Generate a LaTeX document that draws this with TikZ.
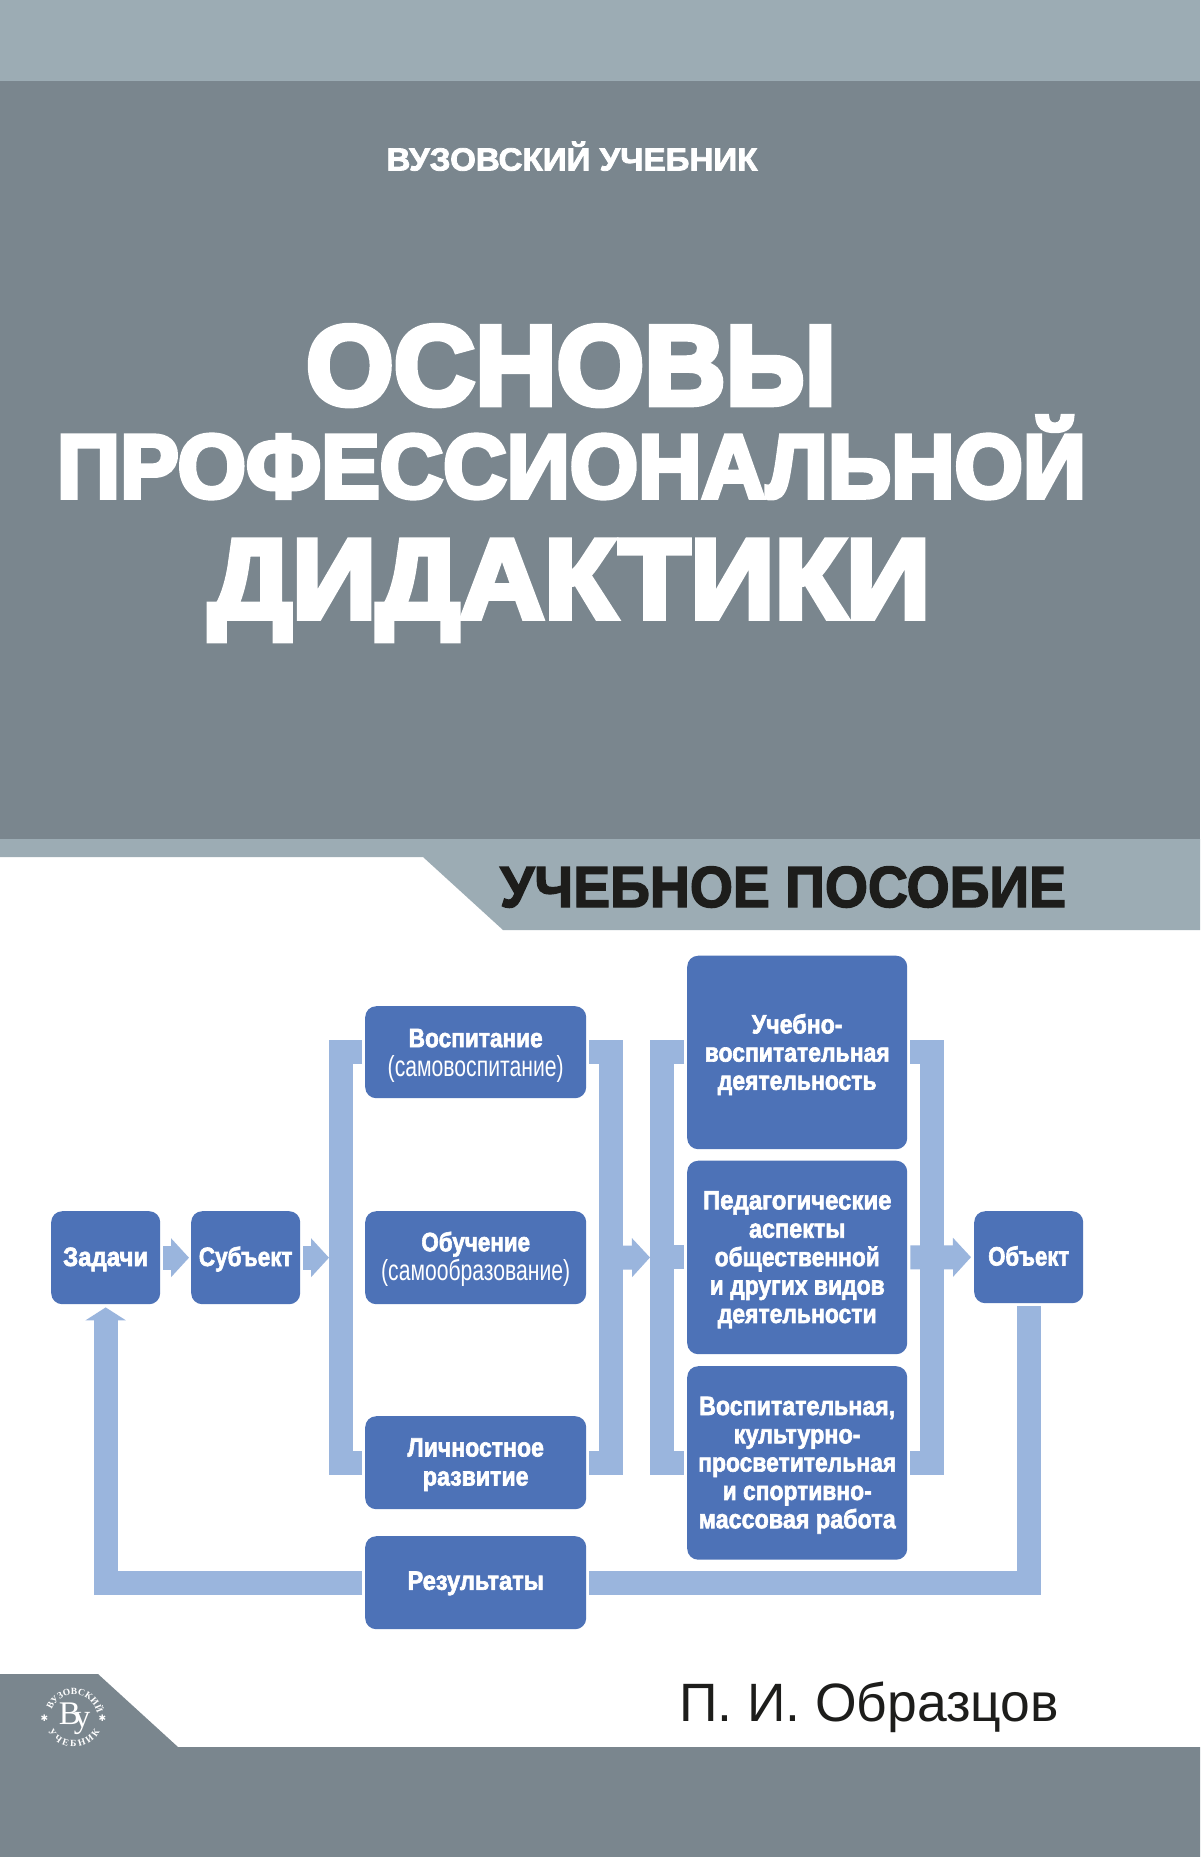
\documentclass[tikz,border=0pt]{standalone}
\usepackage{fontspec}
\usepackage{graphicx}
\usepackage{array}
\setmainfont{Liberation Sans}
\newfontfamily\titlefont{Liberation Sans}[BoldFont={Liberation Sans Bold},BoldFeatures={FakeBold=5}]
\newfontfamily\boxfont{Liberation Sans}[BoldFont={Liberation Sans Bold},BoldFeatures={FakeBold=2.5}]
\newfontfamily\logofont{Liberation Serif}
\newfontfamily\symfont{DejaVu Sans}
\usetikzlibrary{arrows.meta,decorations.text,calc}
\definecolor{topband}{HTML}{9CACB4}
\definecolor{darkband}{HTML}{7A868E}
\definecolor{boxblue}{HTML}{4D72B7}
\definecolor{bandblue}{HTML}{9AB5DD}
\definecolor{inkblack}{HTML}{1D1D1B}
\newcommand{\fitw}[2]{\resizebox{#1pt}{\height}{#2}}
\newcommand{\stack}[3]{\vbox{\kern#1pt\hbox{\setlength{\tabcolsep}{0pt}\fontsize{26.5}{#2}\selectfont\begin{tabular}{c}#3\end{tabular}}}}
\newcommand{\thinl}[1]{\mdseries\fontsize{29}{29}\selectfont #1}
\tikzset{
  flowbox/.style={fill=boxblue,rounded corners=11pt,text=white,inner sep=0pt,anchor=north west,font=\boxfont\bfseries},
  band/.style={draw=bandblue,line width=24pt,line join=miter,line cap=butt},
  bandtip/.style={band,-{Triangle[width=38pt,length=18pt,fill=bandblue]}},
  uptip/.style={band,-{Triangle[width=40pt,length=13pt,fill=bandblue]}},
  titletext/.style={text=white,inner sep=0pt,anchor=base},
}
\begin{document}
\begin{tikzpicture}[x=1pt,y=-1pt]
\useasboundingbox (0,0) rectangle (1200,1857);
\fill[white] (0,0) rectangle (1200,1857);
% background
\fill[topband] (0,0) rectangle (1200,81);
\fill[darkband] (0,81) rectangle (1200,839);
\fill[topband] (0,839) -- (1200,839) -- (1200,930) -- (503,930) -- (423,857) -- (0,857) -- cycle;
\fill[darkband] (0,1674) -- (98,1674) -- (178,1747) -- (1200,1747) -- (1200,1857) -- (0,1857) -- cycle;
% titles
\node[titletext,font=\boxfont\bfseries\fontsize{32}{33}\selectfont] (series) at (572,170.5) {\fitw{371}{ВУЗОВСКИЙ УЧЕБНИК}};
\node[titletext,font=\titlefont\bfseries\fontsize{113}{113}\selectfont] (t1) at (571,404.5) {\fitw{530}{ОСНОВЫ}};
\node[titletext,font=\titlefont\bfseries\fontsize{90}{90}\selectfont] (t2) at (571.5,497.5) {\fitw{1029}{ПРОФЕССИОНАЛЬНОЙ}};
\node[titletext,font=\titlefont\bfseries\fontsize{113}{113}\selectfont] (t3) at (569.5,618) {\fitw{722}{ДИДАКТИКИ}};
\node[text=inkblack,inner sep=0pt,anchor=base,font=\boxfont\bfseries\fontsize{58}{58}\selectfont] (kind) at (783,907) {\fitw{566}{УЧЕБНОЕ ПОСОБИЕ}};
\node[text=inkblack,inner sep=0pt,anchor=base,font=\fontsize{54}{54}\selectfont] (author) at (869,1721) {\fitw{380}{П. И. Образцов}};
% boxes
\node[flowbox,minimum width=109pt,minimum height=93pt] (zad) at (51,1211) {\stack{5}{29}{\fitw{85}{Задачи}}};
\node[flowbox,minimum width=109pt,minimum height=93pt] (sub) at (191,1211) {\stack{5}{29}{\fitw{93.7}{Субъект}}};
\node[flowbox,minimum width=221pt,minimum height=92pt] (vos) at (365,1006) {\stack{8}{29}{\fitw{134}{Воспитание}\\ \fitw{176}{\thinl{(самовоспитание)}}}};
\node[flowbox,minimum width=221pt,minimum height=93pt] (obu) at (365,1211) {\stack{5.5}{28}{\fitw{108.7}{Обучение}\\ \fitw{189}{\thinl{(самообразование)}}}};
\node[flowbox,minimum width=221pt,minimum height=93pt] (lic) at (365,1416) {\stack{5}{29}{\fitw{136.4}{Личностное}\\ \fitw{105.6}{развитие}}};
\node[flowbox,minimum width=221pt,minimum height=93pt] (rez) at (365,1536) {\stack{2.5}{29}{\fitw{136.4}{Результаты}}};
\node[flowbox,minimum width=220pt,minimum height=193.5pt] (g1) at (687,955.5) {\stack{7}{28.2}{\fitw{90.7}{Учебно-}\\ \fitw{185}{воспитательная}\\ \fitw{158.8}{деятельность}}};
\node[flowbox,minimum width=220pt,minimum height=193.5pt] (g2) at (687,1160.5) {\stack{6}{28.4}{\fitw{188.5}{Педагогические}\\ \fitw{96.4}{аспекты}\\ \fitw{165}{общественной}\\ \fitw{175}{и других видов}\\ \fitw{158.8}{деятельности}}};
\node[flowbox,minimum width=220pt,minimum height=193.5pt] (g3) at (687,1366) {\stack{6}{28.3}{\fitw{196}{Воспитательная,}\\ \fitw{126.7}{культурно-}\\ \fitw{198}{просветительная}\\ \fitw{149}{и спортивно-}\\ \fitw{197}{массовая работа}}};
\node[flowbox,minimum width=109pt,minimum height=92pt] (obj) at (974,1211) {\stack{5}{29}{\fitw{81}{Объект}}};
% horizontal arrows
\draw[bandtip] ([xshift=3pt]zad.east) -- ([xshift=-2pt]sub.west);
\coordinate (b1) at ([xshift=-24pt]obu.west);
\draw[band] ([xshift=-3pt]vos.west) -- ([xshift=-24pt]vos.west) -- ([xshift=-24pt]lic.west) -- ([xshift=-3pt]lic.west);
\draw[bandtip] ([xshift=3pt]sub.east) -- ([xshift=-12pt]b1);
% right bracket of column 2
\draw[band] ([xshift=3pt]vos.east) -- ([xshift=24.5pt]vos.east) -- ([xshift=24.5pt]lic.east) -- ([xshift=3pt]lic.east);
% left bracket of column 3
\coordinate (b2) at ([xshift=-25pt]g2.west);
\draw[band] ([xshift=-3pt]g1.west) -- ([xshift=-25pt]g1.west) -- ([xshift=-25pt]g3.west) -- ([xshift=-3pt]g3.west);
\draw[band] ([xshift=-3pt]g2.west) -- (b2);
\draw[bandtip] ([xshift=24.5pt]obu.east) -- ([xshift=-12pt]b2);
% right bracket of column 3
\draw[band] ([xshift=3pt]g1.east) -- ([xshift=25pt]g1.east) -- ([xshift=25pt]g3.east) -- ([xshift=3pt]g3.east);
\draw[bandtip] ([xshift=3pt]g2.east) -- ([xshift=-3pt]obj.west);
% feedback
\draw[uptip,shorten >=3pt] ([xshift=-3pt]rez.west) -| (zad.south);
\draw[band,shorten >=3pt] ([xshift=3pt]rez.east) -| (obj.south);
% logo
\begin{scope}[shift={(74,1718)},y=1pt]
  \node[text=white,inner sep=0pt,font=\logofont\fontsize{33}{33}\selectfont] (logoB) at (-4,4) {В};
  \node[text=white,inner sep=0pt,font=\logofont\fontsize{33}{33}\selectfont] (logoY) at (8,-5) {у};
  \path[decorate,decoration={text along path,text align={fit to path},text color=white,text={|\logofont\bfseries\fontsize{9.5}{9.5}\selectfont|ВУЗОВСКИЙ}}] (160:23.5) arc (160:20:23.5);
  \path[decorate,decoration={text along path,text align={fit to path},text color=white,text={|\logofont\bfseries\fontsize{9.5}{9.5}\selectfont|УЧЕБНИК}}] (207:29) arc (207:333:29);
  \node[text=white,inner sep=0pt,font=\symfont\fontsize{9}{9}\selectfont] (s1) at (-29.5,0) {✱};
  \node[text=white,inner sep=0pt,font=\symfont\fontsize{9}{9}\selectfont] (s2) at (28.5,0) {✱};
\end{scope}
\end{tikzpicture}
\end{document}
